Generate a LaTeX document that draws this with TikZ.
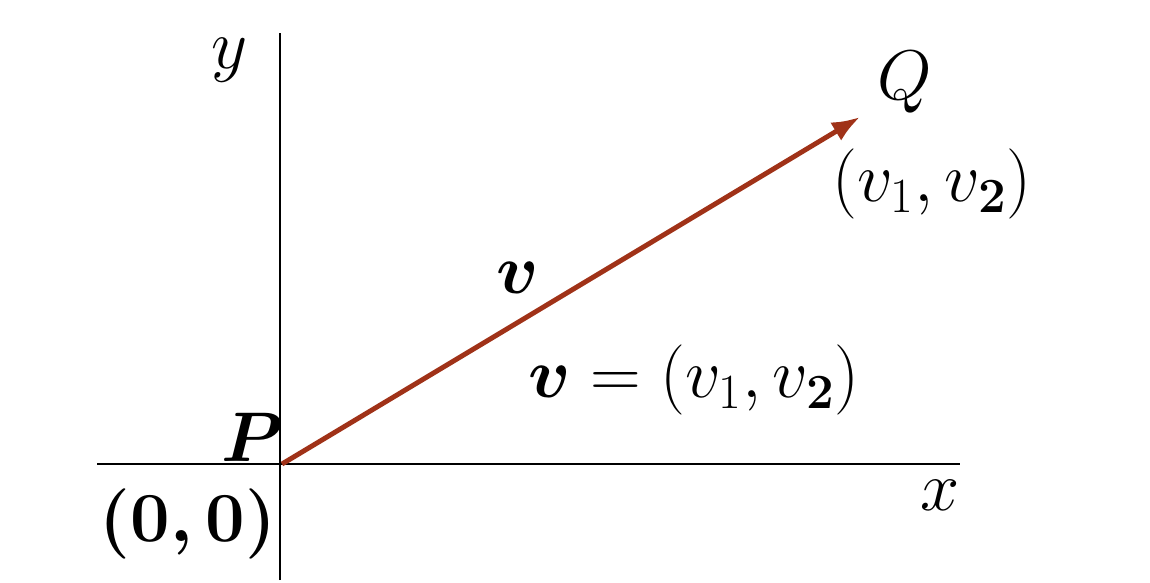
\documentclass[tikz,border=0pt]{standalone}
\usepackage{fix-cm}
\usepackage{amsmath}
\usepackage{xcolor}
\usepackage{tikz}
\usetikzlibrary{arrows.meta}

\definecolor{vecred}{RGB}{160,50,24}
\tikzset{
  lbl/.style={inner sep=0pt,font=\fontsize{40}{44}\selectfont},
  axis/.style={line width=1.2pt},
  vec/.style={vecred,line width=2.8pt,-{Latex[length=16pt,width=12pt]}}
}

\begin{document}
\begin{tikzpicture}[x=0.02cm,y=-0.02cm]
      \useasboundingbox (0,0) rectangle (1150,582);
      % axes
      \coordinate (xl) at (97,464);
      \coordinate (xr) at (960,464);
      \coordinate (yb) at (280,580);
      \coordinate (yt) at (280,33);
      \draw[axis] (xl) -- (xr);
      \draw[axis] (yb) -- (yt);
      \node[lbl] (ylab) at (230,60) {$y$};
      \node[lbl] (xlab) at (940,495) {$x$};
      % vector
      \coordinate (P) at (282,464);
      \coordinate (Q) at (860,117);
      \draw[vec] (P) -- (Q);
      \node[lbl] (Plab) at (253,437) {$\boldsymbol{P}$};
      \node[lbl] (origin) at (188,524) {$\boldsymbol{(0,0)}$};
      \node[lbl] (Qlab) at (905,82) {$Q$};
      \node[lbl] (Qcoord) at (932,184) {$(v_1,v_{\boldsymbol{2}})$};
      \node[lbl] (vlab) at (518,278) {$\boldsymbol{v}$};
      \node[lbl] (vdef) at (694,380) {$\boldsymbol{v}=(v_1,v_{\boldsymbol{2}})$};
    \end{tikzpicture}
\end{document}
